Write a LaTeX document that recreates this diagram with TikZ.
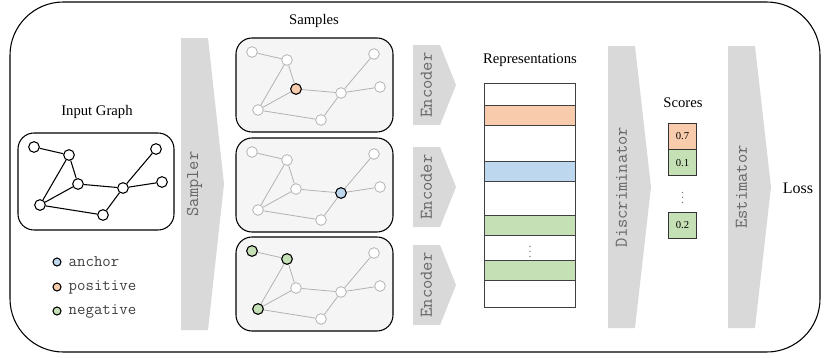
\documentclass[tikz,border=0pt]{standalone}
\usepackage{fontspec}
\setmainfont{Liberation Serif}
\usetikzlibrary{positioning, calc}
\definecolor{stagegray}{RGB}{217, 217, 217}
\definecolor{posorange}{RGB}{248, 203, 173}
\definecolor{ancblue}{RGB}{189, 215, 238}
\definecolor{neggreen}{RGB}{197, 224, 180}
\definecolor{samplefill}{RGB}{245, 245, 245}

\tikzset{
  vert/.style={circle, draw=black, fill=white, line width=0.8pt, minimum size=8pt, inner sep=0pt},
  ghost/.style={vert, draw=black!30, line width=0.6pt},
  plainedge/.style={draw=black, line width=0.8pt},
  ghostedge/.style={draw=black!30, line width=0.6pt},
  graphbox/.style={draw=black, line width=0.8pt, rounded corners=12pt},
  label/.style={font=\fontsize{11}{13}\selectfont},
  stagetext/.style={rotate=90, text=black!60, font=\fontsize{13.5}{15}\selectfont\ttfamily},
  legendtext/.style={right, text=black!75, font=\fontsize{12.3}{14}\selectfont\ttfamily},
  scorebox/.style={draw=black!80, line width=0.7pt, minimum width=21.5pt, minimum height=19.5pt, inner sep=0pt, font=\fontsize{8}{9}\selectfont},
  dots/.style={font=\small, text=black!55, inner sep=0pt},
}

% graph drawn at box corner (#2,#3)
\newcommand{\graphat}[5]{%
  \foreach \i/\dx/\dy in {1/16/14, 2/51/22, 3/60/51, 4/22/72, 5/85/82, 6/105/55, 7/138/16, 8/144/49}
    \node[#4] (#1\i) at ({#2+\dx},{#3+\dy}) {};
  \foreach \a/\b in {1/2, 2/3, 2/4, 3/4, 3/6, 4/5, 5/6, 6/7, 6/8}
    \draw[#5] (#1\a) -- (#1\b);
}

% chevron stage: name, left, top, bottom, text
\newcommand{\stage}[5]{%
  \fill[stagegray] (#2,#3) -- ({#2+27},#3) -- ({#2+43},{(#3+#4)/2}) -- ({#2+27},#4) -- (#2,#4) -- cycle;
  \node[stagetext] (#1) at ({#2+13.5},{(#3+#4)/2}) {#5};
}

\begin{document}
\begin{tikzpicture}[x=0.75pt, y=-0.75pt]
  \useasboundingbox (0,0) rectangle (830,357);
  \draw[line width=0.8pt, rounded corners=40pt] (10,2) rectangle (820,352);

  % input graph
  \node[label] (inlabel) at (97,112) {Input Graph};
  \draw[graphbox] (18,133) rectangle (174,230);
  \graphat{g}{18}{133}{vert}{plainedge}

  % legend
  \node[vert, minimum size=6pt, fill=ancblue] (legA) at (57,262) {};
  \node[legendtext] (legAtext) at (64,262) {anchor};
  \node[vert, minimum size=6pt, fill=posorange] (legP) at (57,287) {};
  \node[legendtext] (legPtext) at (64,287) {positive};
  \node[vert, minimum size=6pt, fill=neggreen] (legN) at (57,311) {};
  \node[legendtext] (legNtext) at (64,311) {negative};

  \stage{sampler}{181}{38}{330}{Sampler}

  % samples
  \node[label] (samplabel) at (314,21) {Samples};
  \foreach \y/\p in {38/a, 138/b, 237/c} {
    \filldraw[graphbox, fill=samplefill] (236,\y) rectangle (393,{\y+94});
    \graphat{\p}{236}{\y}{ghost}{ghostedge}
  }
  \node[vert, fill=posorange] (posnode) at (a3) {};
  \node[vert, fill=ancblue] (ancnode) at (b6) {};
  \node[vert, fill=neggreen] (negone) at (c1) {};
  \node[vert, fill=neggreen] (negtwo) at (c2) {};
  \node[vert, fill=neggreen] (negthree) at (c4) {};

  \stage{encA}{413}{45}{125}{Encoder}
  \stage{encB}{413}{147}{227}{Encoder}
  \stage{encC}{413}{245}{325}{Encoder}

  % representations
  \node[label] (replabel) at (530,60) {Representations};
  \foreach \t/\b/\c in {83/105/white, 105/125/posorange, 125/161/white, 161/181/ancblue,
                        181/215/white, 215/235/neggreen, 235/260/white, 260/280/neggreen, 280/307/white}
    \filldraw[fill=\c, draw=black!75, line width=0.7pt] (484,\t) rectangle (575,\b);
  \node[dots] (repdots) at (530,248) {$\vdots$};

  \stage{disc}{608}{46}{328}{Discriminator}

  % scores
  \node[label] (scorelabel) at (683,103) {Scores};
  \node[scorebox, fill=posorange] (sA) at (682.5,136) {0.7};
  \node[scorebox, fill=neggreen, below=0pt of sA] (sB) {0.1};
  \node[dots] (scoredots) at (682.5,194) {$\vdots$};
  \node[scorebox, fill=neggreen] (sC) at (682.5,225) {0.2};

  \stage{est}{728}{46}{328}{Estimator}

  \node[font=\fontsize{12}{14}\selectfont] (loss) at (798,188) {Loss};
\end{tikzpicture}
\end{document}
